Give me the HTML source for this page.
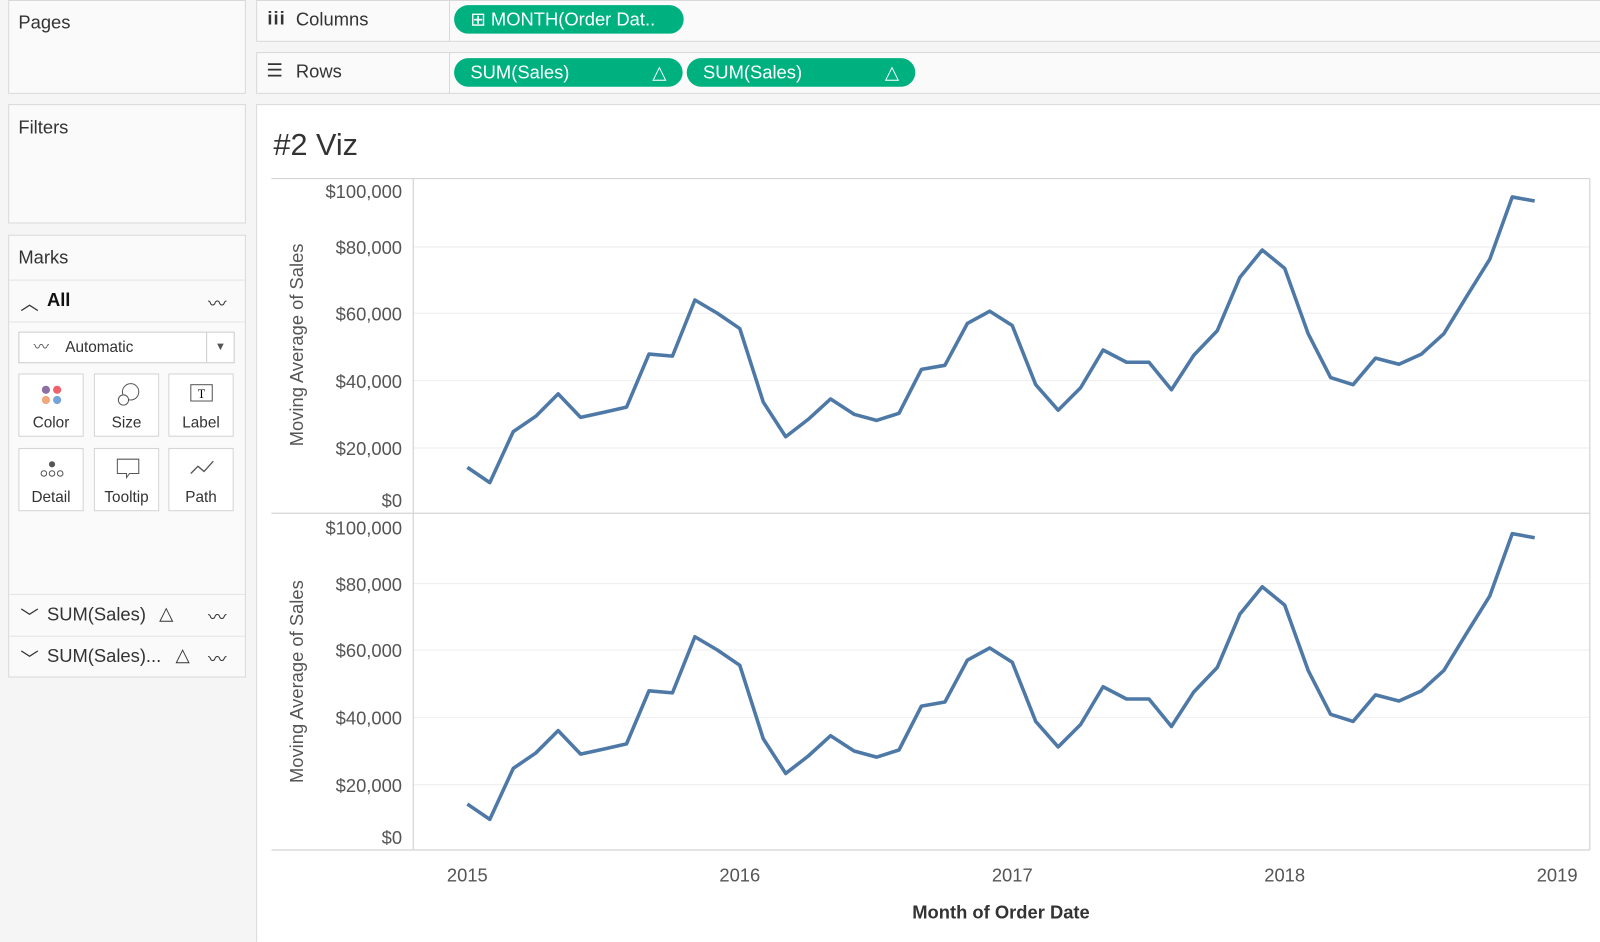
<!DOCTYPE html>
<html><head><meta charset="utf-8"><style>
html,body{margin:0;padding:0;width:1600px;height:933px;overflow:hidden;background:#f5f5f5}
#w{position:absolute;left:0;top:0;width:1568px;height:915px;transform:scale(1.020408);transform-origin:0 0;font-family:"Liberation Sans",sans-serif;color:#333}
.box{position:absolute;background:#fafafa;border:1px solid #d9d9d9;box-sizing:border-box}
.t{position:absolute;font-size:18px;color:#333}
.pill{position:absolute;height:28px;border-radius:14px;background:#00b180;color:#fff;font-size:18px;line-height:28px;box-sizing:border-box;padding-left:16px}
.btn{position:absolute;width:64px;height:62px;border:1px solid #d4d4d4;background:#fff;box-sizing:border-box;text-align:center;font-size:15px}
.btn span{position:absolute;bottom:4px;left:0;right:0}
</style></head><body><div id="w">
<div class="box" style="left:8px;top:0;width:233px;height:92px"></div>
<div class="t" style="left:18px;top:12px">Pages</div>
<div class="box" style="left:251px;top:0;width:1330px;height:41px"></div>
<div style="position:absolute;left:440px;top:0;width:1px;height:41px;background:#d9d9d9"></div>
<div class="t" style="left:262px;top:8px;font-weight:bold;letter-spacing:1px">iii</div>
<div class="t" style="left:290px;top:9px">Columns</div>
<div class="pill" style="left:445px;top:5px;width:225px">⊞ MONTH(Order Dat..</div>
<div class="box" style="left:251px;top:51px;width:1330px;height:41px"></div>
<div style="position:absolute;left:440px;top:51px;width:1px;height:41px;background:#d9d9d9"></div>
<div class="t" style="left:261px;top:59px">☰</div>
<div class="t" style="left:290px;top:60px">Rows</div>
<div class="pill" style="left:445px;top:57px;width:224px">SUM(Sales)<span style="position:absolute;right:16px">△</span></div>
<div class="pill" style="left:673px;top:57px;width:224px">SUM(Sales)<span style="position:absolute;right:16px">△</span></div>
<div class="box" style="left:8px;top:102px;width:233px;height:117px"></div>
<div class="t" style="left:18px;top:115px">Filters</div>
<div class="box" style="left:8px;top:230px;width:233px;height:434px"></div>
<div class="t" style="left:18px;top:242px">Marks</div>
<div style="position:absolute;left:9px;top:274px;width:231px;height:1px;background:#e4e4e4"></div>
<div class="t" style="left:20px;top:284px">︿</div>
<div class="t" style="left:46px;top:284px;font-weight:bold;color:#111">All</div>
<div class="t" style="left:204px;top:284px">〰</div>
<div style="position:absolute;left:9px;top:315px;width:231px;height:1px;background:#e4e4e4"></div>
<div style="position:absolute;left:18px;top:325px;width:212px;height:31px;border:1px solid #ccc;background:#fff;box-sizing:border-box;font-size:15px;line-height:29px;padding-left:45px">Automatic<span style="position:absolute;left:14px;color:#555">〰</span><span style="position:absolute;right:0;top:0;width:26px;height:29px;border-left:1px solid #ccc;text-align:center;font-size:11px;color:#555">▼</span></div>
<div class="btn" style="left:18px;top:366px"><svg width="64" height="30"><circle cx="26" cy="15" r="4" fill="#8c6fa3"/><circle cx="37" cy="15" r="4" fill="#f0616b"/><circle cx="26" cy="25" r="4" fill="#f2a77a"/><circle cx="37" cy="25" r="4" fill="#76a4d8"/></svg><span>Color</span></div>
<div class="btn" style="left:92px;top:366px"><svg width="64" height="34"><circle cx="35" cy="17" r="8" fill="none" stroke="#555"/><circle cx="28" cy="25" r="5" fill="#fff" stroke="#555"/></svg><span>Size</span></div>
<div class="btn" style="left:165px;top:366px"><svg width="64" height="34"><rect x="21" y="10" width="21" height="16" fill="none" stroke="#555"/><text x="31.5" y="23" font-size="12" text-anchor="middle" font-family="Liberation Serif">T</text></svg><span>Label</span></div>
<div class="btn" style="left:18px;top:439px"><svg width="64" height="34"><circle cx="32" cy="15" r="3" fill="#555"/><circle cx="24" cy="24" r="2.7" fill="none" stroke="#555"/><circle cx="32" cy="24" r="2.7" fill="none" stroke="#555"/><circle cx="40" cy="24" r="2.7" fill="none" stroke="#555"/></svg><span>Detail</span></div>
<div class="btn" style="left:92px;top:439px"><svg width="64" height="34"><path d="M22 10h21v14h-9l-3 4v-4h-9z" fill="none" stroke="#555"/></svg><span>Tooltip</span></div>
<div class="btn" style="left:165px;top:439px"><svg width="64" height="34"><path d="M21 24l7-7 6 5 9-10" fill="none" stroke="#555" stroke-width="1.3"/></svg><span>Path</span></div>
<div style="position:absolute;left:9px;top:582px;width:231px;height:1px;background:#e4e4e4"></div>
<div class="t" style="left:20px;top:591px">﹀</div>
<div class="t" style="left:46px;top:592px">SUM(Sales)</div>
<div class="t" style="left:156px;top:591px">△</div>
<div class="t" style="left:204px;top:591px">〰</div>
<div style="position:absolute;left:9px;top:623px;width:231px;height:1px;background:#e4e4e4"></div>
<div class="t" style="left:20px;top:632px">﹀</div>
<div class="t" style="left:46px;top:633px">SUM(Sales)...</div>
<div class="t" style="left:172px;top:632px">△</div>
<div class="t" style="left:204px;top:632px">〰</div>
<div style="position:absolute;left:251px;top:102px;width:1330px;height:820px;background:#fff;border-left:1px solid #d9d9d9;border-top:1px solid #d9d9d9"></div>
<svg style="position:absolute;left:0;top:0" width="1568" height="915" font-family="Liberation Sans, sans-serif">
<text x="268" y="152" font-size="30" fill="#333">#2 Viz</text>
<g stroke="#eee" stroke-width="1">
<line x1="405" x2="1558" y1="242" y2="242"/><line x1="405" x2="1558" y1="307" y2="307"/><line x1="405" x2="1558" y1="373" y2="373"/><line x1="405" x2="1558" y1="439" y2="439"/>
<line x1="405" x2="1558" y1="572" y2="572"/><line x1="405" x2="1558" y1="637" y2="637"/><line x1="405" x2="1558" y1="703" y2="703"/><line x1="405" x2="1558" y1="769" y2="769"/>
</g>
<g stroke="#d4d4d4" stroke-width="1.2" fill="none">
<line x1="266" x2="1558" y1="175" y2="175"/><line x1="266" x2="1558" y1="503" y2="503"/><line x1="266" x2="1558" y1="833" y2="833"/>
<line x1="405" x2="405" y1="175" y2="833"/><line x1="1558" x2="1558" y1="175" y2="833"/>
</g>
<g font-size="18" fill="#555" text-anchor="end">
<text x="394" y="194">$100,000</text><text x="394" y="249">$80,000</text><text x="394" y="314">$60,000</text><text x="394" y="380">$40,000</text><text x="394" y="446">$20,000</text><text x="394" y="497">$0</text>
<text x="394" y="524">$100,000</text><text x="394" y="579">$80,000</text><text x="394" y="644">$60,000</text><text x="394" y="710">$40,000</text><text x="394" y="776">$20,000</text><text x="394" y="827">$0</text>
</g>
<g font-size="18" fill="#555" text-anchor="middle">
<text transform="translate(297,338) rotate(-90)">Moving Average of Sales</text>
<text transform="translate(297,668) rotate(-90)">Moving Average of Sales</text>
<text x="458" y="864">2015</text><text x="725" y="864">2016</text><text x="992" y="864">2017</text><text x="1259" y="864">2018</text><text x="1526" y="864">2019</text>
<text x="981" y="900" font-weight="bold" fill="#333">Month of Order Date</text>
</g>
<g id="ln" fill="none" stroke="#4e79a7" stroke-width="3.5" stroke-linejoin="round">
<polyline points="458,458 480,473 503,423 525,408 547,386 569,409 592,404 614,399 636,347 659,349 681,294 703,307 725,322 748,394 770,428 792,411 814,391 837,406 859,412 881,405 903,362 926,358 948,317 970,305 992,319 1015,377 1037,402 1059,380 1081,343 1104,355 1126,355 1148,382 1170,348 1193,324 1215,272 1237,245 1259,263 1282,327 1304,370 1326,377 1348,351 1371,357 1393,347 1415,327 1437,291 1460,254 1482,193 1504,197"/>
<polyline transform="translate(0,330)" points="458,458 480,473 503,423 525,408 547,386 569,409 592,404 614,399 636,347 659,349 681,294 703,307 725,322 748,394 770,428 792,411 814,391 837,406 859,412 881,405 903,362 926,358 948,317 970,305 992,319 1015,377 1037,402 1059,380 1081,343 1104,355 1126,355 1148,382 1170,348 1193,324 1215,272 1237,245 1259,263 1282,327 1304,370 1326,377 1348,351 1371,357 1393,347 1415,327 1437,291 1460,254 1482,193 1504,197"/>
</g>
</svg>
</div></body></html>
